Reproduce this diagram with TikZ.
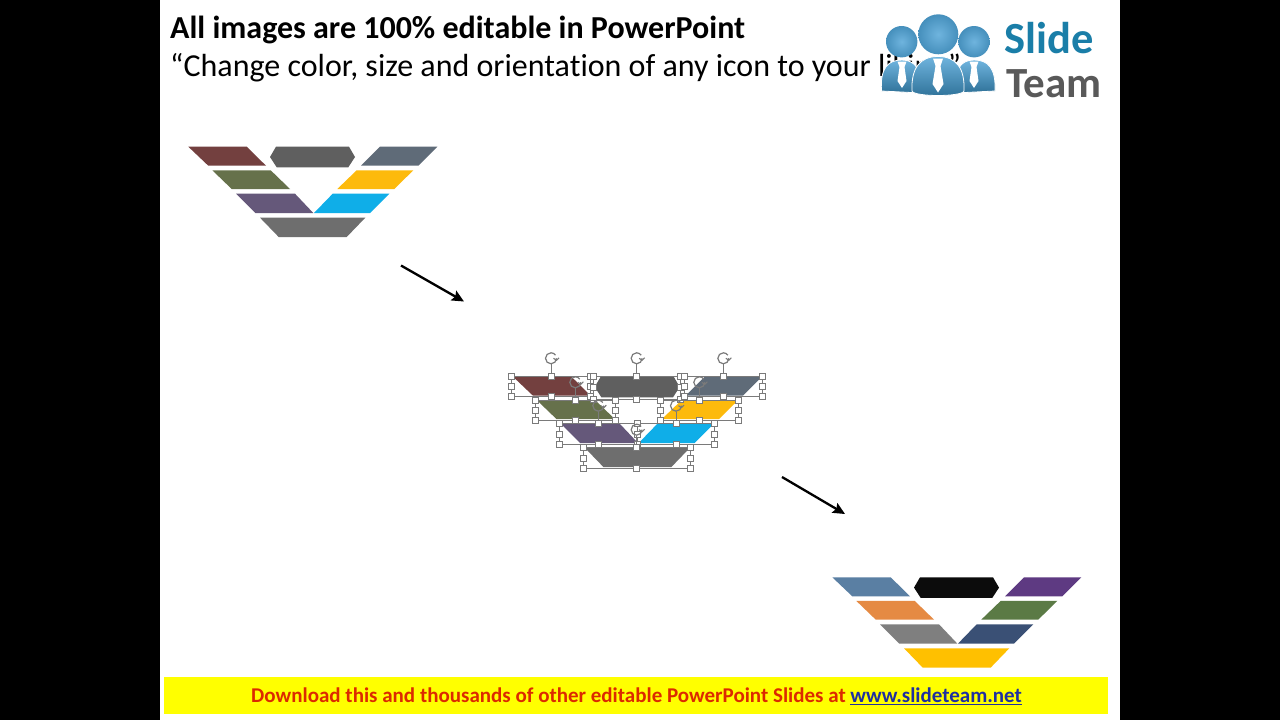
\documentclass[tikz,border=0pt]{standalone}
\usepackage{fontspec}
\setmainfont[Ligatures=NoCommon]{Carlito}
\usetikzlibrary{arrows.meta}
\definecolor{cMaroon}{HTML}{73403F}
\definecolor{cDark}{HTML}{5F5F5F}
\definecolor{cSlate}{HTML}{5F6B78}
\definecolor{cOlive}{HTML}{66714B}
\definecolor{cAmber}{HTML}{FDBA0C}
\definecolor{cPurple}{HTML}{65587A}
\definecolor{cCyan}{HTML}{0FAEE8}
\definecolor{cGrey}{HTML}{6E6E6E}
\definecolor{rSteel}{HTML}{5A7FA3}
\definecolor{rBlack}{HTML}{0C0C0C}
\definecolor{rViolet}{HTML}{5E3A82}
\definecolor{rOrange}{HTML}{E58A43}
\definecolor{rGreen}{HTML}{5B7A45}
\definecolor{rGrey}{HTML}{7F7F7F}
\definecolor{rNavy}{HTML}{3A5075}
\definecolor{rGold}{HTML}{FFC000}
\definecolor{logoLight}{HTML}{6FB4DE}
\definecolor{logoBlue}{HTML}{4F9CCB}
\definecolor{logoDeep}{HTML}{2F7299}
\definecolor{logoText}{HTML}{1A7EA8}
\definecolor{logoTeam}{HTML}{595959}
\definecolor{handleGrey}{HTML}{7A7A7A}
\definecolor{bannerYellow}{HTML}{FFFF00}
\definecolor{bannerRed}{HTML}{DC2A00}
\definecolor{bannerBlue}{HTML}{1F2FA0}
\tikzset{
  x=1pt,y=-1pt,
  blade/.style={fill=#1,draw=none},
  flowarrow/.style={draw=black,line width=2.3pt,-{Stealth[length=12pt,width=11pt,inset=2pt]}},
  selbox/.style={draw=handleGrey,line width=.9pt},
  grip/.style={draw=handleGrey,fill=white,line width=.8pt},
  head/.style={inner color=logoLight,outer color=logoBlue!70!logoDeep},
  body/.style={top color=logoLight,bottom color=logoDeep,draw=white,line width=.8pt},
  tie/.style={fill=white,draw=none}
}
\newcommand{\vmark}[8]{%
  \fill[blade=#1] (188.3,146.7)--(246.7,146.7)--(266,165.7)--(208.3,165.7)--cycle;
  \fill[blade=#2] (270,157)--(276,146.7)--(349,146.7)--(355,157)--(348.3,167.3)--(276.7,167.3)--cycle;
  \fill[blade=#3] (380,146.7)--(437.3,146.7)--(418.3,165.7)--(361,165.7)--cycle;
  \fill[blade=#4] (212.3,170.3)--(270.7,170.3)--(290,189)--(231.7,189)--cycle;
  \fill[blade=#5] (356.7,170.3)--(413.3,170.3)--(394.3,189)--(337.3,189)--cycle;
  \fill[blade=#6] (236,193.7)--(295,193.7)--(313.3,213)--(255.3,213)--cycle;
  \fill[blade=#7] (332.7,193.7)--(389.3,193.7)--(370,213)--(314,213)--cycle;
  \fill[blade=#8] (260,217.7)--(365.3,217.7)--(346.7,237)--(278.7,237)--cycle;
}
\newcommand{\grip}[2]{\filldraw[grip] (#1-3,#2-3) rectangle (#1+3,#2+3);}
\newcommand{\selframe}[4]{%
  \pgfmathsetmacro{\mx}{(#1+#3)/2}\pgfmathsetmacro{\my}{(#2+#4)/2}
  \draw[selbox] (#1,#2) rectangle (#3,#4);
  \draw[selbox] (\mx,#2) -- (\mx,#2-12);
  \draw[selbox,line width=1.2pt] (\mx+5.5,#2-18) arc (0:325:5.5);
  \draw[selbox,line width=1.1pt] (\mx+2.5,#2-18) -- (\mx+5.5,#2-16) -- (\mx+8,#2-18.5);
  \grip{#1}{#2}\grip{\mx}{#2}\grip{#3}{#2}
  \grip{#1}{\my}\grip{#3}{\my}
  \grip{#1}{#4}\grip{\mx}{#4}\grip{#3}{#4}
}
\begin{document}
\begin{tikzpicture}
\useasboundingbox (0,0) rectangle (1280,720);
\fill[white] (0,0) rectangle (1280,720);
\fill[black] (0,0) rectangle (160,720);
\fill[black] (1120,0) rectangle (1280,720);
\node[anchor=west,inner sep=0pt,font=\fontsize{32}{32}\selectfont\bfseries] (headline) at (170,30) {All images are 100\% editable in PowerPoint};
\node[anchor=west,inner sep=0pt,font=\fontsize{32}{32}\selectfont] (subline) at (170,68) {“Change color, size and orientation of any icon to your liking”};

% logo
\shade[body] (881.5,91) .. controls (880,68) and (888,60) .. (902,60) .. controls (915,60) and (923,70) .. (921,93) -- cycle;
\shade[body] (955,93) .. controls (954,70) and (960,60) .. (974,60) .. controls (988,60) and (996,68) .. (995,91) -- cycle;
\shade[body] (912,91) .. controls (911,68) and (920,56.5) .. (938,56.5) .. controls (956,56.5) and (965,68) .. (964,91) .. controls (962,97) and (914,97) .. (912,91) -- cycle;
\shade[head] (901.7,41.7) circle (15.7);
\shade[head] (974,41.7) circle (15.7);
\shade[head] (938.3,34.3) circle (20);
\fill[tie] (897.5,61.5)--(906.5,61.5)--(904.5,67)--(906.5,81)--(902,88)--(897.5,81)--(899.5,67)--cycle;
\fill[tie] (969.5,61.5)--(978.5,61.5)--(976.5,67)--(978.5,81)--(974,88)--(969.5,81)--(971.5,67)--cycle;
\fill[tie] (933,58.5)--(943,58.5)--(940.5,66)--(943.5,84)--(938,92.5)--(932.5,84)--(935.5,66)--cycle;
\node[anchor=west,inner sep=0pt,text=logoText,font=\fontsize{44.5}{44.5}\selectfont\bfseries] (slide) at (1004,38) {Slide};
\node[anchor=west,inner sep=0pt,text=logoTeam,font=\fontsize{43}{43}\selectfont\bfseries] (team) at (1006,84) {Team};

% first mark
\vmark{cMaroon}{cDark}{cSlate}{cOlive}{cAmber}{cPurple}{cCyan}{cGrey}
% middle mark
\begin{scope}[shift={(324.7,230)}]
\vmark{cMaroon}{cDark}{cSlate}{cOlive}{cAmber}{cPurple}{cCyan}{cGrey}
\end{scope}
\selframe{511.3}{376.3}{590.7}{396.7}
\selframe{593.3}{376.3}{680}{399.3}
\selframe{684}{376.3}{762.7}{396.7}
\selframe{535.3}{400.3}{615.3}{420.7}
\selframe{660.3}{400.3}{738.3}{420.7}
\selframe{559.3}{423.7}{637.3}{444.3}
\selframe{637.3}{423.7}{714.7}{444.3}
\selframe{583.3}{447.7}{690}{468.3}
% last mark
\begin{scope}[shift={(644,430.6)}]
\vmark{rSteel}{rBlack}{rViolet}{rOrange}{rGreen}{rGrey}{rNavy}{rGold}
\end{scope}

% arrows
\coordinate (a1s) at (401,265.5);
\coordinate (a1e) at (464,301.5);
\coordinate (a2s) at (782,477);
\coordinate (a2e) at (845,514);
\draw[flowarrow] (a1s) -- (a1e);
\draw[flowarrow] (a2s) -- (a2e);

% banner
\fill[bannerYellow] (164,677) rectangle (1108,714);
\node[inner sep=0pt,anchor=west,font=\fontsize{21}{21}\selectfont\bfseries] (download) at (251,696) {\textcolor{bannerRed}{Download this and thousands of other editable PowerPoint Slides at} \textcolor{bannerBlue}{\underline{www.slideteam.net}}};
\end{tikzpicture}
\end{document}
